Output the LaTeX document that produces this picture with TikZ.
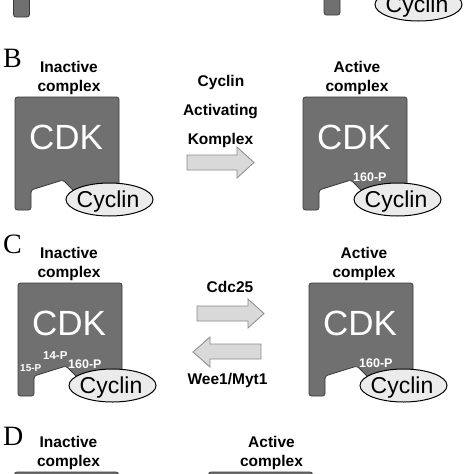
\documentclass[tikz,border=0pt]{standalone}
\usepackage{fontspec}
\setmainfont{Liberation Sans}
\newfontfamily\panelfont{Liberation Serif}
\usetikzlibrary{shapes.geometric}
\definecolor{cdkfill}{HTML}{707070}
\definecolor{cdkline}{HTML}{3A3A3A}
\definecolor{cycfill}{HTML}{EBEBEB}
\definecolor{arrfill}{HTML}{D9D9D9}
\definecolor{arrline}{HTML}{8A8A8A}
\begin{document}
\begin{tikzpicture}[x=1pt,y=-1pt,
  lbl/.style={font=\bfseries\fontsize{15.5}{18}\selectfont, anchor=base, inner sep=0},
  panel/.style={font=\panelfont\fontsize{28}{30}\selectfont, anchor=base west, inner sep=0},
  cdktxt/.style={text=white, font=\fontsize{35}{40}\selectfont, anchor=base, inner sep=0},
  cyc/.style={ellipse, draw=black, line width=1pt, fill=cycfill, minimum width=87pt, minimum height=33pt, inner sep=0},
  cyctxt/.style={font=\fontsize{23}{26}\selectfont, anchor=base, inner sep=0},
  phos/.style={text=white, font=\bfseries\fontsize{12.5}{14}\selectfont, anchor=base west, inner sep=0},
  blockarrow/.style={fill=arrfill, draw=arrline, line width=0.8pt},
  cdkbody/.style={fill=cdkfill, draw=cdkline, line width=0.8pt, rounded corners=2.5pt},
  pics/cdkshape/.style={code={
    \path[cdkbody] (0,0) -- (104,0) -- (104,93) -- (63,98) -- (48,83) -- (16,93) -- (16,113) -- (0,113) -- cycle;
  }},
  pics/cdk/.style={code={
    \path[cdkbody] (0,0) -- (104,0) -- (104,93) -- (63,98) -- (48,83) -- (16,93) -- (16,113) -- (0,113) -- cycle;
    \node[cdktxt] (-t) at (51,52.5) {CDK};
  }}]
\useasboundingbox (0,0) rectangle (474,474);
\clip (0,0) rectangle (474,474);
\fill[white] (0,0) rectangle (474,474);

% ---- Panel A (fragments at top)
\path[cdkbody] (13.5,-10) -- (13.5,17) -- (29.5,17) -- (29.5,-10) -- cycle;
\pic (ar) at (324,-98) {cdkshape};
\node[cyc] (arc) at (418.5,4.5) {};
\node[cyctxt] (arct) at (417,12.5) {Cyclin};

% ---- Panel B
\node[panel] (pB) at (3,67) {B};
\node[lbl] (bl1) at (69,72.5) {Inactive};
\node[lbl] (bl2) at (69,91) {complex};
\node[lbl] (br1) at (357,72.5) {Active};
\node[lbl] (br2) at (357,91) {complex};
\node[lbl] (bm1) at (221,86) {Cyclin};
\node[lbl] (bm2) at (220.5,115) {Activating};
\node[lbl] (bm3) at (220.5,144) {Komplex};
\path[blockarrow] (187,155) -- (237,155) -- (237,147) -- (254,162.5) -- (237,178) -- (237,170) -- (187,170) -- cycle;

\pic (bL) at (15,97) {cdk};
\node[cyc] (bLc) at (109.5,199.5) {};
\node[cyctxt] (bLct) at (108,207.5) {Cyclin};

\pic (bR) at (303,97) {cdk};
\node[phos] (bRp) at (353,181) {160-P};
\node[cyc] (bRc) at (397.5,199.5) {};
\node[cyctxt] (bRct) at (396,207.5) {Cyclin};

% ---- Panel C
\node[panel] (pC) at (3,253) {C};
\node[lbl] (cl1) at (69,258) {Inactive};
\node[lbl] (cl2) at (69,277) {complex};
\node[lbl] (cr1) at (364,258) {Active};
\node[lbl] (cr2) at (364,277) {complex};
\node[lbl] (cm1) at (230,292) {Cdc25};
\node[lbl] (cm2) at (227.5,384) {Wee1/Myt1};
\path[blockarrow] (197,306) -- (248,306) -- (248,299) -- (264,313.5) -- (248,328) -- (248,321) -- (197,321) -- cycle;
\path[blockarrow] (261,344) -- (210,344) -- (210,337) -- (193,352) -- (210,367) -- (210,359) -- (261,359) -- cycle;

\pic (cL) at (18,283) {cdk};
\node[phos, font=\bfseries\fontsize{10}{12}\selectfont] (cLp1) at (20,371) {15-P};
\node[phos, font=\bfseries\fontsize{11.5}{13}\selectfont] (cLp2) at (43,359) {14-P};
\node[phos] (cLp3) at (68,368) {160-P};
\node[cyc] (cLc) at (112.5,385.5) {};
\node[cyctxt] (cLct) at (111,393.5) {Cyclin};

\pic (cR) at (309,283) {cdk};
\node[phos] (cRp) at (359,367) {160-P};
\node[cyc] (cRc) at (403.5,385.5) {};
\node[cyctxt] (cRct) at (402,393.5) {Cyclin};

% ---- Panel D
\node[panel] (pD) at (3,445) {D};
\node[lbl] (dl1) at (68.5,447.5) {Inactive};
\node[lbl] (dl2) at (68.5,466) {complex};
\node[lbl] (dr1) at (271.5,447.5) {Active};
\node[lbl] (dr2) at (271.5,466) {complex};
\pic (dL) at (14.5,472) {cdkshape};
\pic (dR) at (208.5,472) {cdkshape};
\end{tikzpicture}
\end{document}
